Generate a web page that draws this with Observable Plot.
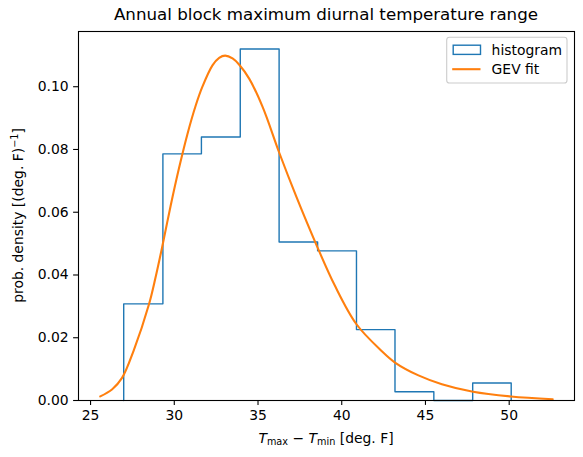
<!DOCTYPE html>
<html>
<head>
<meta charset="utf-8">
<script src="https://cdn.jsdelivr.net/npm/d3@7"></script>
<script src="https://cdn.jsdelivr.net/npm/@observablehq/plot@0.6"></script>
<style>
  html, body { margin: 0; padding: 0; background: white; }
  #fig { position: relative; width: 583px; height: 457px; }
  #fig svg { display: block; }
  #legend { position: absolute; left: 0; top: 0; pointer-events: none; }
</style>
</head>
<body>
<div id="fig"></div>
<script>
// ---- data ----
const binEdges = [26.98, 29.32, 31.62, 33.94, 36.26, 38.56, 40.88, 43.18, 45.5, 47.82, 50.12];
const binDensity = [0.0308, 0.0786, 0.0840, 0.1120, 0.0505, 0.0477, 0.0226, 0.0028, 0.0, 0.0056];

const gevX = [25.58, 26.28, 26.88, 27.58, 28.48, 28.88, 29.28, 29.78, 30.28, 30.78, 31.28, 31.68, 32.28, 32.68, 33.04, 33.48, 33.88, 34.48, 35.28, 36.28, 37.3, 38.48, 39.58, 40.88, 42.38, 43.18, 44.58, 45.98, 47.84, 50.1, 52.6];
const gevY = [0.0013, 0.0035, 0.0072, 0.0160, 0.0305, 0.0392, 0.0490, 0.0620, 0.0740, 0.0848, 0.0940, 0.1000, 0.1068, 0.1092, 0.1099, 0.1090, 0.1070, 0.1025, 0.0935, 0.0788, 0.0648, 0.0497, 0.0367, 0.0243, 0.0158, 0.0121, 0.0080, 0.0052, 0.0028, 0.0013, 0.0004];

const xTicks = [25, 30, 35, 40, 45, 50];
const yTicks = [0, 0.02, 0.04, 0.06, 0.08, 0.10];

const titleText = "Annual block maximum diurnal temperature range";
const legendLabels = ["histogram", "GEV fit"];

// ---- build tables ----
const histPts = [{x: binEdges[0], y: 0}];
binDensity.forEach((d, i) => histPts.push({x: binEdges[i], y: d}));
histPts.push({x: binEdges[binEdges.length - 1], y: 0});
const gev = gevX.map((x, i) => ({x, y: gevY[i]}));

const W = 583, H = 457;
const mL = 78, mR = 9, mT = 31, mB = 57;
const FONT = "DejaVu Sans";
const BLUE = "#1f77b4", ORANGE = "#ff7f0e";

const chart = Plot.plot({
  width: W, height: H,
  marginLeft: mL, marginRight: mR, marginTop: mT, marginBottom: mB,
  style: {fontFamily: FONT, fontSize: "13.9px", color: "black", background: "white", overflow: "visible"},
  x: {domain: [24.28, 53.9]},
  y: {domain: [0, 0.1176]},
  marks: [
    Plot.line(histPts, {x: "x", y: "y", curve: "step-after", stroke: BLUE, strokeWidth: 1.4}),
    Plot.line(gev, {x: "x", y: "y", curve: "catmull-rom", stroke: ORANGE, strokeWidth: 2.1}),
    Plot.frame({stroke: "black", strokeWidth: 1.1}),
    Plot.axisX({ticks: xTicks, tickFormat: d => String(d), tickSize: 4.9, tickPadding: 5.2, label: null, strokeWidth: 1.1, fontSize: 13.9}),
    Plot.axisY({ticks: yTicks, tickFormat: d3.format(".2f"), tickSize: 4.9, tickPadding: 4.9, label: null, strokeWidth: 1.1, fontSize: 13.9})
  ]
});

const fig = document.getElementById("fig");
fig.appendChild(chart);

const svg = d3.select(chart);
const cx = mL + (W - mL - mR) / 2;
const cy = mT + (H - mT - mB) / 2;

// title
svg.append("text")
  .attr("x", cx).attr("y", 20)
  .attr("text-anchor", "middle")
  .attr("font-family", FONT).attr("font-size", 16.7)
  .attr("fill", "black")
  .text(titleText);

// x label with subscripts
const xl = svg.append("text")
  .attr("x", cx).attr("y", 442.5)
  .attr("text-anchor", "middle")
  .attr("font-family", FONT).attr("font-size", 13.9)
  .attr("fill", "black");
xl.append("tspan").attr("font-style", "italic").text("T");
xl.append("tspan").attr("font-size", 9.7).attr("dy", 2.6).text("max");
xl.append("tspan").attr("dy", -2.6).text(" \u2212 ");
xl.append("tspan").attr("font-style", "italic").text("T");
xl.append("tspan").attr("font-size", 9.7).attr("dy", 2.6).text("min");
xl.append("tspan").attr("dy", -2.6).text(" [deg. F]");

// y label with superscript
const yl = svg.append("text")
  .attr("transform", `translate(23,${cy}) rotate(-90)`)
  .attr("text-anchor", "middle")
  .attr("font-family", FONT).attr("font-size", 13.9)
  .attr("fill", "black");
yl.append("tspan").text("prob. density [(deg. F)");
yl.append("tspan").attr("font-size", 9.7).attr("dy", -5.5).text("\u22121");
yl.append("tspan").attr("dy", 5.5).text("]");

// legend overlay
const lg = d3.select(fig).append("svg")
  .attr("id", "legend").attr("width", W).attr("height", H);
lg.append("rect")
  .attr("x", 446.7).attr("y", 37.3).attr("width", 120.3).attr("height", 45.7)
  .attr("rx", 2.8).attr("ry", 2.8)
  .attr("fill", "rgba(255,255,255,0.8)")
  .attr("stroke", "#cccccc").attr("stroke-width", 1.1);
lg.append("rect")
  .attr("x", 453.2).attr("y", 45.2).attr("width", 27.3).attr("height", 9.2)
  .attr("fill", "none").attr("stroke", BLUE).attr("stroke-width", 1.4);
lg.append("line")
  .attr("x1", 452.2).attr("x2", 480.5).attr("y1", 69.2).attr("y2", 69.2)
  .attr("stroke", ORANGE).attr("stroke-width", 2.1);
legendLabels.forEach((t, i) => {
  lg.append("text")
    .attr("x", 491.6).attr("y", [54.5, 74.2][i])
    .attr("font-family", FONT).attr("font-size", 13.9)
    .attr("fill", "black")
    .text(t);
});
</script>
</body>
</html>
